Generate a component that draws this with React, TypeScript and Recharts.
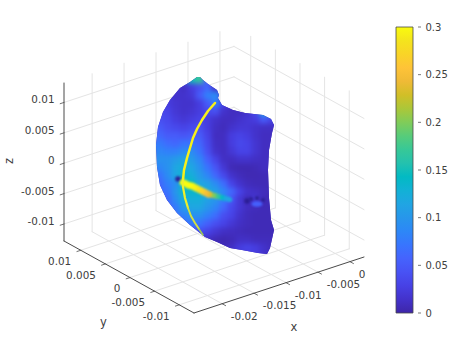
import React from 'react';
import { ScatterChart, Scatter, XAxis, YAxis, ComposedChart, Bar } from 'recharts';

const xTicks = [-0.02, -0.015, -0.01, -0.005, 0];
const yTicks = [0.01, 0.005, 0, -0.005, -0.01];
const zTicks = [0.01, 0.005, 0, -0.005, -0.01];
const cbTicks = [0, 0.05, 0.1, 0.15, 0.2, 0.25, 0.3];
const parula = ['#3e26a8','#4332cb','#4741e5','#4852f4','#4563fd','#3875fe','#2d87f7','#2796eb','#20a5e3','#12b1d6','#02bac3','#24c1ae','#37c897','#57cc7a','#80cc59','#abc739','#d1bf27','#efba36','#fec338','#f9d427','#f4e41d','#f9fb0e'];

// Colour value of the surface, sampled row by row across the projected view
const surfaceRows = [
  [.025,.025,.025,.04,.08,.17,.17,.06,.02,.015,.015,.015,.015,.015,.015,.015,.015],
  [.025,.025,.025,.025,.04,.15,.17,.05,.02,.015,.015,.015,.015,.015,.015,.015,.015],
  [.025,.025,.025,.02,.012,.025,.04,.06,.015,.015,.015,.015,.015,.015,.015,.015,.015],
  [.03,.03,.025,.015,.015,.02,.05,.08,.09,.03,.015,.015,.015,.03,.08,.08,.08],
  [.03,.03,.025,.018,.015,.015,.025,.05,.08,.03,.012,.012,.015,.04,.10,.12,.12],
  [.035,.035,.03,.02,.015,.018,.025,.035,.04,.015,.01,.01,.015,.035,.13,.12,.10],
  [.04,.04,.035,.025,.02,.025,.03,.025,.015,.01,.01,.015,.02,.025,.05,.03,.03],
  [.05,.05,.04,.035,.03,.035,.04,.025,.012,.008,.015,.02,.02,.015,.012,.012,.012],
  [.06,.06,.05,.05,.045,.05,.05,.03,.01,.01,.025,.03,.025,.015,.01,.01,.01],
  [.075,.075,.065,.06,.07,.07,.06,.035,.012,.01,.025,.035,.03,.018,.01,.01,.01],
  [.085,.085,.08,.08,.09,.09,.07,.04,.015,.01,.02,.03,.03,.018,.01,.01,.01],
  [.095,.095,.095,.105,.115,.105,.085,.055,.03,.012,.01,.015,.015,.012,.01,.01,.01],
  [.085,.085,.095,.115,.125,.115,.095,.07,.045,.02,.006,.004,.004,.006,.01,.01,.01],
  [.07,.07,.09,.115,.135,.125,.105,.085,.06,.035,.015,.008,.005,.005,.006,.006,.006],
  [.06,.06,.08,.09,.145,.145,.115,.11,.09,.065,.03,.015,.008,.006,.006,.006,.006],
  [.06,.06,.07,.10,.135,.135,.135,.12,.11,.085,.06,.03,.015,.012,.008,.006,.006],
  [.06,.06,.06,.09,.125,.125,.125,.11,.10,.075,.045,.02,.008,.02,.006,.006,.006],
  [.06,.06,.06,.075,.105,.115,.115,.10,.085,.06,.035,.02,.01,.008,.006,.006,.006],
  [.06,.06,.06,.07,.08,.095,.095,.08,.065,.04,.03,.015,.008,.006,.006,.006,.006],
  [.05,.05,.05,.06,.065,.075,.07,.055,.04,.03,.02,.012,.008,.006,.006,.006,.006],
  [.04,.04,.04,.04,.045,.045,.04,.03,.02,.012,.01,.008,.006,.006,.006,.006,.006],
  [.02,.02,.02,.02,.02,.02,.015,.012,.006,.004,.006,.012,.012,.008,.008,.008,.008],
  [.008,.008,.008,.008,.008,.008,.008,.006,.004,.006,.012,.025,.03,.025,.015,.008,.008],
  [.008,.008,.008,.008,.008,.008,.008,.006,.006,.006,.012,.02,.025,.025,.015,.008,.008],
];

// Silhouette, arc and streak in the chart's projected plane
const outlinePlane = [[197,77],[190,82],[180,88],[170,100],[163,112],[158,127],[156,145],[157,167],[160,185],[167,200],[177,213],[190,225],[205,237],[217,242],[230,248],[242,250],[258,253],[267,254],[270,248],[274,230],[271,220],[269,198],[268,170],[269,150],[272,133],[274,125],[271,119],[263,115],[245,113],[233,110],[222,105],[218,98],[219,95],[217,90],[208,84],[203,80],[200,77]];
const arcUpper = [[215,103],[208,111],[202,120],[197,129],[193,138],[190,148],[187,158],[184,170],[183,180]];
const arcMiddle = [[183,180],[183,187],[185,198],[188,208]];
const arcLower = [[188,208],[191,216],[195,223],[199,229]];
const arcTail = [[199,229],[203,235]];
const streakPoints = [[184,183,.3],[188,185,.3],[192,186,.3],[196,188,.295],[200,190,.285],[204,192,.27],[208,194,.25],[212,195,.235],[216,196,.2],[220,197,.17],[224,198,.14],[228,199,.115]];
const darkSpots = [[178,179],[247,201]];
const paleSpots = [[257,204]];
const ringPoints = [[251,199],[257,198],[263,200]];

const F = 'DejaVu Sans, sans-serif';
const TXT = '#404040';
const GRID = '#e4e4e4';
const SHADE = '#2c1f96';
const XMIN = -0.0244, XMAX = 0.0022, YMIN = -0.013, YMAX = 0.0134, ZMIN = -0.0128, ZMAX = 0.0132;
const proj = (x: number, y: number, z: number) => {
  const a = (x - XMIN) / (XMAX - XMIN), b = (YMAX - y) / (YMAX - YMIN), c = (z - ZMIN) / (ZMAX - ZMIN);
  return { x: 64 + a * 170 + b * 130, y: 241 - a * 56 + b * 72 - c * 158 };
};
const seg = (a: number[], b: number[]) => [proj(a[0], a[1], a[2]), proj(b[0], b[1], b[2])];
const gridSegs: { x: number; y: number }[][] = [];
xTicks.forEach((t) => {
  gridSegs.push(seg([t, YMIN, ZMIN], [t, YMAX, ZMIN]));
  gridSegs.push(seg([t, YMAX, ZMIN], [t, YMAX, ZMAX]));
});
yTicks.forEach((t) => {
  gridSegs.push(seg([XMIN, t, ZMIN], [XMAX, t, ZMIN]));
  gridSegs.push(seg([XMAX, t, ZMIN], [XMAX, t, ZMAX]));
});
zTicks.forEach((t) => {
  gridSegs.push(seg([XMIN, YMAX, t], [XMAX, YMAX, t]));
  gridSegs.push(seg([XMAX, YMAX, t], [XMAX, YMIN, t]));
});
const axisSegs = [
  seg([XMIN, YMAX, ZMIN], [XMIN, YMAX, ZMAX]),
  seg([XMIN, YMAX, ZMIN], [XMIN, YMIN, ZMIN]),
  seg([XMIN, YMIN, ZMIN], [XMAX, YMIN, ZMIN]),
];
const off = (p: { x: number; y: number }, dx: number, dy: number) => ({ x: p.x + dx, y: p.y + dy });
const tickSegs: { x: number; y: number }[][] = [];
xTicks.forEach((t) => { const p = proj(t, YMIN, ZMIN); tickSegs.push([p, off(p, 3.5, 1.9)]); });
yTicks.forEach((t) => { const p = proj(XMIN, t, ZMIN); tickSegs.push([p, off(p, -3.8, 1.25)]); });
zTicks.forEach((t) => { const p = proj(XMIN, YMAX, t); tickSegs.push([p, off(p, -3.8, 1.25)]); });

const fmt = (t: number) => String(t);
const xLabels = xTicks.map((t) => ({ ...off(proj(t, YMIN, ZMIN), 8.7, 12), label: fmt(t) }));
const yLabels = yTicks.map((t) => ({ ...off(proj(XMIN, t, ZMIN), -9.5, 10.7), label: fmt(t) }));
const zLabels = zTicks.map((t) => ({ ...off(proj(XMIN, YMAX, t), -9.5, -3), label: fmt(t) }));

const colour = (v: number) => {
  const f = Math.max(0, Math.min(1, v / 0.3)) * (parula.length - 1);
  const i = Math.min(parula.length - 2, Math.floor(f));
  const t = f - i;
  const rgb = (h: string) => [1, 3, 5].map((k) => parseInt(h.slice(k, k + 2), 16));
  const a = rgb(parula[i]), b = rgb(parula[i + 1]);
  return `rgb(${a.map((c, k) => Math.round(c + (b[k] - c) * t)).join(',')})`;
};
const toPts = (a: number[][]) => a.map((p) => ({ x: p[0], y: p[1] }));
const cells = surfaceRows.flatMap((r, j) => r.map((v, i) => ({ x: 152 + i * 8, y: 72 + j * 8, v })));
const streak = streakPoints.map((p) => ({ x: p[0], y: p[1], v: p[2] }));
const barData = [{ name: 'c', top: 0.3 }];

const Nothing = () => null;
const textShape = (anchor: string, size: number) => (p: any) => (
  <text x={p.cx} y={p.cy} textAnchor={anchor} dominantBaseline="central" fontFamily={F} fontSize={size} fill={TXT}>{p.payload.label}</text>
);

const CbTick = (p: any) => (
  <g>
    <line x1={p.x - 3} x2={p.x} y1={p.y} y2={p.y} stroke={TXT} strokeWidth={0.7} />
    <text x={p.x + 4.5} y={p.y} dominantBaseline="central" fontFamily={F} fontSize={10} fill={TXT}>{p.payload.value}</text>
  </g>
);

const Seg = (key: string, data: any[], stroke: string, w: number) => (
  <Scatter key={key} data={data} shape={Nothing} isAnimationActive={false} line={{ stroke, strokeWidth: w, strokeLinecap: 'round', strokeLinejoin: 'round' }} />
);

export default function App() {
  return (
    <div style={{ position: 'absolute', left: 0, top: 0, width: 474, height: 353, background: '#fff', overflow: 'hidden' }}>
      <style>{`.surf-cells{filter:url(#surfBlur);clip-path:url(#silhouette)}.soft{filter:url(#softBlur);clip-path:url(#silhouette)}`}</style>
      <svg width={0} height={0} style={{ position: 'absolute' }}>
        <defs>
          <filter id="surfBlur" x="-10%" y="-10%" width="120%" height="120%" colorInterpolationFilters="sRGB">
            <feGaussianBlur stdDeviation="2.8" />
          </filter>
          <filter id="softBlur" x="-20%" y="-20%" width="140%" height="140%" colorInterpolationFilters="sRGB">
            <feGaussianBlur stdDeviation="0.8" />
          </filter>
        </defs>
      </svg>
      <div style={{ position: 'absolute', left: 0, top: 0 }}>
        <ScatterChart width={474} height={353} margin={{ top: 0, right: 0, bottom: 0, left: 0 }}>
          <XAxis type="number" dataKey="x" domain={[0, 474]} hide allowDataOverflow />
          <YAxis type="number" dataKey="y" domain={[0, 353]} reversed hide allowDataOverflow />
          {gridSegs.map((s, i) => Seg(`g${i}`, s, GRID, 1))}
          {axisSegs.map((s, i) => Seg(`a${i}`, s, '#4a4a4a', 1))}
          {tickSegs.map((s, i) => Seg(`t${i}`, s, '#4a4a4a', 0.8))}
          <Scatter data={xLabels} shape={textShape('start', 10.4)} isAnimationActive={false} />
          <Scatter data={yLabels} shape={textShape('end', 10.4)} isAnimationActive={false} />
          <Scatter data={zLabels} shape={textShape('end', 10.4)} isAnimationActive={false} />
          <Scatter data={[{ x: 294, y: 327, label: 'x' }, { x: 103.5, y: 322, label: 'y' }]} shape={textShape('middle', 11.5)} isAnimationActive={false} />
          <Scatter
            data={[{ x: 9, y: 161, label: 'z' }]}
            isAnimationActive={false}
            shape={(p: any) => (
              <text x={p.cx} y={p.cy} transform={`rotate(-90 ${p.cx} ${p.cy})`} textAnchor="middle" dominantBaseline="central" fontFamily={F} fontSize={11.5} fill={TXT}>{p.payload.label}</text>
            )}
          />
          <Scatter
            data={toPts(outlinePlane)}
            shape={Nothing}
            isAnimationActive={false}
            line={(p: any) => {
              const pts = p.points.map((q: any) => `${q.x},${q.y}`).join(' ');
              return (
                <g>
                  <clipPath id="silhouette" clipPathUnits="userSpaceOnUse"><polygon points={pts} /></clipPath>
                  <polygon points={pts} fill="#3e2cbc" />
                </g>
              );
            }}
          />
          <Scatter
            className="surf-cells"
            data={cells}
            isAnimationActive={false}
            shape={(p: any) => <rect x={p.cx - 4.5} y={p.cy - 4.5} width={9} height={9} fill={colour(p.payload.v)} />}
          />
          <Scatter className="soft" data={toPts(darkSpots)} isAnimationActive={false} shape={(p: any) => <circle cx={p.cx} cy={p.cy} r={2.8} fill={SHADE} />} />
          <Scatter className="soft" data={toPts(ringPoints)} isAnimationActive={false} shape={(p: any) => <circle cx={p.cx} cy={p.cy} r={2} fill={SHADE} />} />
          <Scatter className="soft" data={toPts(paleSpots)} isAnimationActive={false} shape={(p: any) => <ellipse cx={p.cx} cy={p.cy} rx={5.5} ry={2.8} fill={colour(0.055)} />} />
          <Scatter className="soft" data={streak} isAnimationActive={false} shape={(p: any) => <ellipse cx={p.cx} cy={p.cy} rx={4.5} ry={p.payload.v > 0.24 ? 3.4 : 2.6} transform={`rotate(20 ${p.cx} ${p.cy})`} fill={colour(p.payload.v)} />} />
          {Seg('arc1', toPts(arcUpper), '#f7f01a', 2.5)}
          {Seg('arc2', toPts(arcMiddle), '#eef02a', 2.2)}
          {Seg('arc3', toPts(arcLower), '#d4e23c', 1.9)}
          {Seg('arc4', toPts(arcTail), '#9ecb52', 1.5)}
        </ScatterChart>
      </div>
      <div style={{ position: 'absolute', left: 0, top: 0 }}>
        <svg width={0} height={0} style={{ position: 'absolute' }}>
          <defs>
            <linearGradient id="parulaGrad" x1="0" y1="1" x2="0" y2="0">
              {parula.map((c, i) => <stop key={c} offset={i / (parula.length - 1)} stopColor={c} />)}
            </linearGradient>
          </defs>
        </svg>
        <ComposedChart width={474} height={353} data={barData} barCategoryGap={0} margin={{ top: 27, right: 21, bottom: 40, left: 396 }}>
          <XAxis dataKey="name" hide />
          <YAxis orientation="right" width={40} domain={[0, 0.3]} ticks={cbTicks} axisLine={false} tickLine={false} tick={CbTick} interval={0} />
          <Bar dataKey="top" fill="url(#parulaGrad)" stroke="#4a4a4a" strokeWidth={0.8} isAnimationActive={false} />
        </ComposedChart>
      </div>
    </div>
  );
}
